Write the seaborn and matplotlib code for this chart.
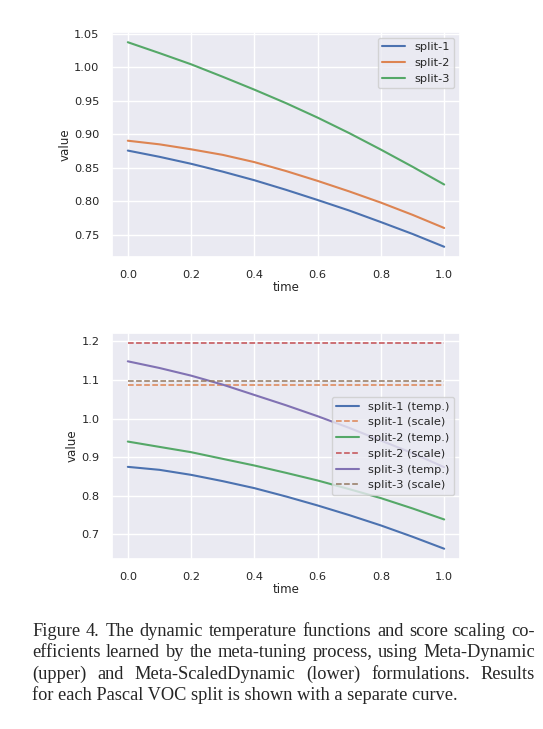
import numpy as np
import pandas as pd
import matplotlib
matplotlib.use("Agg")
import matplotlib.pyplot as plt
import seaborn as sns

# ---------------- data ----------------
time = [0.0, 0.1, 0.2, 0.3, 0.4, 0.5, 0.6, 0.7, 0.8, 0.9, 1.0]

# upper panel (Meta-Dynamic)
upper_split1 = [0.8758, 0.8665, 0.8561, 0.8444, 0.8316, 0.8173, 0.8021, 0.7864, 0.7692, 0.7515, 0.7324]
upper_split2 = [0.8905, 0.8851, 0.8777, 0.8694, 0.8586, 0.8453, 0.8306, 0.8149, 0.7982, 0.7800, 0.7604]
upper_split3 = [1.0373, 1.0211, 1.0044, 0.9858, 0.9666, 0.9465, 0.9249, 0.9018, 0.8772, 0.8517, 0.8252]
upper_labels = ["split-1", "split-2", "split-3"]

# lower panel (Meta-ScaledDynamic)
lower_split1_temp = [0.8750, 0.8673, 0.8543, 0.8380, 0.8199, 0.7983, 0.7750, 0.7500, 0.7233, 0.6940, 0.6630]
lower_split2_temp = [0.9405, 0.9267, 0.9130, 0.8957, 0.8785, 0.8595, 0.8397, 0.8173, 0.7940, 0.7673, 0.7388]
lower_split3_temp = [1.1483, 1.1310, 1.1112, 1.0879, 1.0612, 1.0345, 1.0061, 0.9759, 0.9431, 0.9104, 0.8742]
lower_scale = [1.087, 1.195, 1.098]  # split-1, split-2, split-3
lower_labels = ["split-1 (temp.)", "split-1 (scale)", "split-2 (temp.)",
                "split-2 (scale)", "split-3 (temp.)", "split-3 (scale)"]

caption_lines = [
    "Figure 4. The dynamic temperature functions and score scaling co-",
    "efficients learned by the meta-tuning process, using Meta-Dynamic",
    "(upper) and Meta-ScaledDynamic (lower) formulations.  Results",
    "for each Pascal VOC split is shown with a separate curve.",
]

# ---------------- style ----------------
sns.set_theme(style="darkgrid")
plt.rcParams["font.family"] = ["DejaVu Sans"]
TICK = 8.2
LAB = 8.6
palette = sns.color_palette("deep")

fig = plt.figure(figsize=(5.43, 7.29), dpi=100)
W, H = 543, 729


def add_ax(left, top, right, bottom):
    return fig.add_axes([left / W, 1 - bottom / H, (right - left) / W, (bottom - top) / H])


# ---------------- upper ----------------
ax1 = add_ax(112, 32, 460, 257)
df_up = pd.DataFrame({
    "time": time * 3,
    "value": upper_split1 + upper_split2 + upper_split3,
    "split": [upper_labels[0]] * len(time) + [upper_labels[1]] * len(time) + [upper_labels[2]] * len(time),
})
sns.lineplot(data=df_up, x="time", y="value", hue="split", palette=palette[:3], ax=ax1, linewidth=1.5)
ax1.set_yticks([0.75, 0.80, 0.85, 0.90, 0.95, 1.00, 1.05])
ax1.set_yticklabels(["0.75", "0.80", "0.85", "0.90", "0.95", "1.00", "1.05"])
ax1.set_xticks([0.0, 0.2, 0.4, 0.6, 0.8, 1.0])
ax1.tick_params(labelsize=TICK, pad=3)
ax1.set_xlabel("time", fontsize=LAB, labelpad=1)
ax1.set_ylabel("value", fontsize=LAB, labelpad=2)
ax1.legend(loc="upper right", fontsize=TICK, handlelength=2.0)

# ---------------- lower ----------------
ax2 = add_ax(112, 333, 460, 559)
temps = [lower_split1_temp, lower_split2_temp, lower_split3_temp]
ci = 0
for i in range(3):
    sns.lineplot(x=time, y=temps[i], ax=ax2, color=palette[ci], linewidth=1.5,
                 label=lower_labels[2 * i])
    ci += 1
    sns.lineplot(x=time, y=[lower_scale[i]] * len(time), ax=ax2, color=palette[ci],
                 linewidth=1.1, linestyle="--", label=lower_labels[2 * i + 1])
    ci += 1
ax2.set_yticks([0.7, 0.8, 0.9, 1.0, 1.1, 1.2])
ax2.set_xticks([0.0, 0.2, 0.4, 0.6, 0.8, 1.0])
ax2.tick_params(labelsize=TICK, pad=3)
ax2.set_xlabel("time", fontsize=LAB, labelpad=1)
ax2.set_ylabel("value", fontsize=LAB, labelpad=2)
ax2.legend(loc="center right", fontsize=TICK, handlelength=2.0)

# ---------------- caption (justified) ----------------
fig.canvas.draw()
renderer = fig.canvas.get_renderer()
x0, x1 = 32, 535
baselines = [636, 657, 679, 700]
cap_font = dict(family=["Liberation Serif", "DejaVu Serif"], size=13.2)

for li, line in enumerate(caption_lines):
    y = 1 - baselines[li] / H
    if li == len(caption_lines) - 1:
        fig.text(x0 / W, y, line, ha="left", va="baseline", **cap_font)
        continue
    words = line.split()
    texts, widths = [], []
    for w in words:
        t = fig.text(0, y, w, ha="left", va="baseline", **cap_font)
        texts.append(t)
        widths.append(t.get_window_extent(renderer=renderer).width)
    gap = (x1 - x0 - sum(widths)) / (len(words) - 1)
    xpos = x0
    for t, wdt in zip(texts, widths):
        t.set_x(xpos / W)
        xpos += wdt + gap

fig.savefig("out.png", dpi=100, facecolor="white")
